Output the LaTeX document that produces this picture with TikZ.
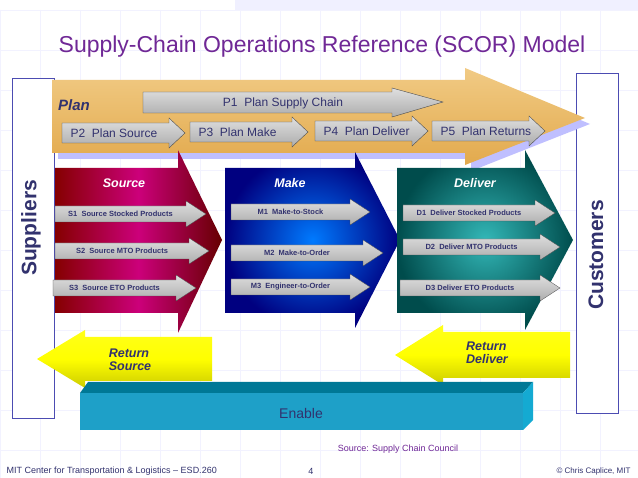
\documentclass[tikz,border=0pt]{standalone}
\usepackage{fontspec}
\setmainfont{Liberation Sans}
\begin{document}
\definecolor{ttl}{RGB}{112,40,150}
\definecolor{lab}{RGB}{50,50,110}
\definecolor{plan}{RGB}{235,180,80}
\definecolor{entop}{RGB}{0,120,150}
\definecolor{enside}{RGB}{20,170,210}
\definecolor{enfront}{RGB}{30,160,200}
\newcommand\garr[5]{% x1 x2 y text size
  \path[draw=gray!60!black,line width=0.4pt,top color=gray!25,bottom color=gray!65]
    (#1,#3-10)--(#2-16,#3-10)--(#2-16,#3-15)--(#2,#3)--(#2-16,#3+15)--(#2-16,#3+10)--(#1,#3+10)--cycle;
  \node[font=\fontsize{#5}{#5}\selectfont,text=lab,anchor=west] at (#1+5,#3) {#4};}
\newcommand\sarr[5]{%
  \path[draw=gray!60!black,line width=0.3pt,top color=gray!25,bottom color=gray!65]
    (#1,#3-8)--(#2-20,#3-8)--(#2-20,#3-13)--(#2,#3)--(#2-20,#3+13)--(#2-20,#3+8)--(#1,#3+8)--cycle;
  \node[font=\bfseries\fontsize{#5}{#5}\selectfont,text=lab] at ({(#1+#2-20)/2},#3) {#4};}
\begin{tikzpicture}[x=1pt,y=-1pt]
\useasboundingbox (0,0) rectangle (638,478);
\fill[white] (0,0) rectangle (638,478);
\fill[blue!6] (235,0) rectangle (638,10);
\foreach \x in {0,40,...,638} \draw[blue!5] (\x,10)--(\x,478);
\foreach \y in {10,50,...,478} \draw[blue!5] (0,\y)--(638,\y);
\node[text=ttl,font=\fontsize{23}{23}\selectfont] (title) at (322,47) {Supply-Chain Operations Reference (SCOR) Model};
% side boxes
\draw[blue!40!gray,fill=white] (12,78) rectangle (54,418);
\node[rotate=90,font=\bfseries\fontsize{21}{21}\selectfont,text=lab] (sup) at (31,228) {Suppliers};
\draw[blue!40!gray,fill=white] (576,73) rectangle (618,413);
\node[rotate=90,font=\bfseries\fontsize{21}{21}\selectfont,text=lab] (cus) at (596,255) {Customers};
% plan
\fill[blue!25] (58,86)--(471,86)--(471,74)--(590,124)--(471,171)--(471,159)--(58,159)--cycle;
\shade[top color=plan!70!white,bottom color=plan!80!brown] (52,80)--(465,80)--(465,68)--(585,118)--(465,165)--(465,153)--(52,153)--cycle;
\node[font=\bfseries\itshape\fontsize{15}{15}\selectfont,text=lab] (plant) at (74,105) {Plan};
\path[draw=gray!60!black,top color=gray!25,bottom color=gray!65]
 (143,92)--(392,92)--(392,88)--(443,102)--(392,117)--(392,113)--(143,113)--cycle;
\node[text=lab,font=\fontsize{12}{12}\selectfont] (p1) at (283,103) {P1\ \ Plan Supply Chain};
\garr{62}{185}{133}{P2\ \ Plan Source}{12}
\garr{190}{308}{132}{P3\ \ Plan Make}{12}
\garr{315}{428}{131}{P4\ \ Plan Deliver}{12}
\garr{432}{545}{131}{P5\ \ Plan Returns}{12}
% source make deliver
\shade[left color=red!40!black!80!red,right color=red!40!black,middle color=magenta!60!red!80!black]
 (55,168)--(178,168)--(178,150)--(222,240)--(178,333)--(178,313)--(55,313)--cycle;
\shade[inner color=blue!40!cyan!80!blue,outer color=blue!50!black]
 (225,168)--(355,168)--(355,152)--(400,240)--(355,328)--(355,313)--(225,313)--cycle;
\shade[inner color=teal!70!cyan!80!white,outer color=teal!60!black]
 (397,168)--(525,168)--(525,150)--(573,240)--(525,330)--(525,313)--(397,313)--cycle;
\node[text=white,font=\bfseries\itshape\fontsize{12.5}{12.5}\selectfont] (src) at (124,183) {Source};
\node[text=white,font=\bfseries\itshape\fontsize{12.5}{12.5}\selectfont] (mk) at (290,183) {Make};
\node[text=white,font=\bfseries\itshape\fontsize{12.5}{12.5}\selectfont] (dl) at (475,183) {Deliver};
\sarr{55}{206}{214}{S1\ \ Source Stocked Products}{7.5}
\sarr{55}{209}{251}{S2\ \ Source MTO Products}{7.5}
\sarr{53}{196}{288}{S3\ \ Source ETO Products}{7.5}
\sarr{231}{370}{212}{M1\ \ Make-to-Stock}{7.5}
\sarr{231}{383}{253}{M2\ \ Make-to-Order}{7.5}
\sarr{231}{370}{287}{M3\ \ Engineer-to-Order}{7.5}
\sarr{403}{555}{213}{D1\ \ Deliver Stocked Products}{7.5}
\sarr{403}{560}{247}{D2\ \ Deliver MTO Products}{7.5}
\sarr{400}{560}{288}{D3 Deliver ETO Products}{7.5}
% returns
\shade[top color=yellow!90!white,bottom color=yellow!60!olive,middle color=yellow]
 (212,337)--(85,337)--(85,330)--(37,359)--(85,388)--(85,381)--(212,381)--cycle;
\shade[top color=yellow!90!white,bottom color=yellow!60!olive,middle color=yellow]
 (570,332)--(443,332)--(443,325)--(395,355)--(443,385)--(443,378)--(570,378)--cycle;
\node[text=lab,font=\bfseries\itshape\fontsize{12.5}{13}\selectfont,align=left] (rs) at (130,360) {Return\\Source};
\node[text=lab,font=\bfseries\itshape\fontsize{12.5}{13}\selectfont,align=left] (rd) at (487,353) {Return\\Deliver};
% enable
\fill[entop] (80,393)--(88,382)--(533,382)--(523,393)--cycle;
\fill[enside] (523,393)--(533,382)--(533,420)--(523,430)--cycle;
\fill[enfront] (80,393) rectangle (523,430);
\node[text=lab,font=\fontsize{14}{14}\selectfont] (en) at (301,413) {Enable};
% footer
\node[text=ttl,font=\fontsize{9}{9}\selectfont] (srcc) at (398,449) {Source: Supply Chain Council};
\node[text=lab,font=\fontsize{9}{9}\selectfont,anchor=west] (f1) at (3,471) {MIT Center for Transportation \& Logistics -- ESD.260};
\node[text=lab,font=\fontsize{9}{9}\selectfont] (f2) at (311,471) {4};
\node[text=lab,font=\fontsize{8}{8}\selectfont,anchor=east] (f3) at (634,471) {© Chris Caplice, MIT};
\end{tikzpicture}
\end{document}
